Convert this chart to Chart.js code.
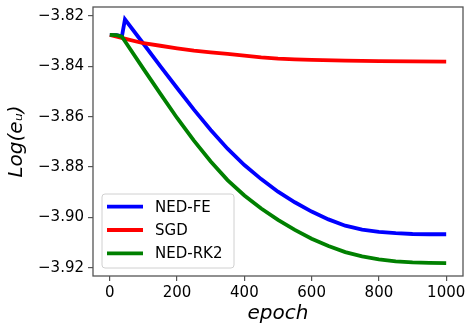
<!DOCTYPE html>
<html>
<head>
<meta charset="utf-8">
<script src="https://cdn.jsdelivr.net/npm/chart.js@4/dist/chart.umd.min.js"></script>
<style>
  html, body { margin: 0; padding: 0; background: #fff; }
  canvas { display: block; }
</style>
</head>
<body>
<canvas id="c" width="474" height="336"></canvas>
<script>
const seriesNames = ['NED-FE', 'SGD', 'NED-RK2'];
const seriesColors = ['#0000ff', '#ff0000', '#008000'];

const epochsFE = [0, 20, 36, 45, 100, 150, 200, 250, 300, 350, 400, 450, 500, 550, 600, 650, 700, 750, 800, 850, 900, 950, 1000];
const nedFE = [-3.8275, -3.8276, -3.8281, -3.8213, -3.8310, -3.8399, -3.8486, -3.8572, -3.8653, -3.8727, -3.8792, -3.8848,
               -3.8898, -3.8940, -3.8977, -3.9008, -3.9033, -3.9049, -3.9058, -3.9063, -3.9066, -3.9067, -3.9067];

const epochsSGD = [0, 50, 100, 150, 200, 250, 300, 350, 400, 450, 500, 550, 600, 700, 800, 900, 1000];
const sgd = [-3.8275, -3.8292, -3.8308, -3.8318, -3.8328, -3.8337, -3.8344, -3.8350, -3.8357, -3.8364, -3.8369,
             -3.8372, -3.8374, -3.8377, -3.8379, -3.8380, -3.8381];

const epochsRK2 = [0, 20, 36, 50, 100, 150, 200, 250, 300, 350, 400, 450, 500, 550, 600, 650, 700, 750, 800, 850, 900, 950, 1000];
const nedRK2 = [-3.8275, -3.8276, -3.8282, -3.8310, -3.8410, -3.8508, -3.8605, -3.8695, -3.8778, -3.8852, -3.8913, -3.8965,
                -3.9010, -3.9050, -3.9085, -3.9114, -3.9138, -3.9155, -3.9167, -3.9175, -3.9179, -3.9181, -3.9182];

const xTicks = [0, 200, 400, 600, 800, 1000];
const yTicks = [-3.92, -3.90, -3.88, -3.86, -3.84, -3.82];

const toPoints = (xs, ys) => xs.map((x, i) => ({ x: x, y: ys[i] }));
const seriesData = [toPoints(epochsFE, nedFE), toPoints(epochsSGD, sgd), toPoints(epochsRK2, nedRK2)];

// box around the plot, like matplotlib spines
const framePlugin = {
    id: 'frame',
    afterDatasetsDraw(chart) {
        const { ctx, chartArea: a } = chart;
        ctx.save();
        ctx.strokeStyle = '#555';
        ctx.lineWidth = 1.3;
        ctx.strokeRect(a.left, a.top, a.right - a.left, a.bottom - a.top);
        ctx.restore();
    }
};

// legend in the lower left corner of the plot
const legendPlugin = {
    id: 'boxLegend',
    afterDraw(chart) {
        const { ctx, chartArea: a } = chart;
        const x0 = a.left + 9, w = 132, rowH = 23.3, h = 74;
        const y0 = a.bottom - 8 - h;
        ctx.save();
        ctx.beginPath();
        ctx.roundRect(x0, y0, w, h, 3);
        ctx.fillStyle = 'rgba(255,255,255,0.8)';
        ctx.fill();
        ctx.strokeStyle = '#d0d0d0';
        ctx.lineWidth = 1;
        ctx.stroke();
        ctx.font = '15px "DejaVu Sans"';
        ctx.textBaseline = 'middle';
        chart.data.datasets.forEach((ds, i) => {
            const cy = y0 + 12.7 + i * rowH;
            ctx.beginPath();
            ctx.moveTo(x0 + 5, cy);
            ctx.lineTo(x0 + 41, cy);
            ctx.strokeStyle = ds.borderColor;
            ctx.lineWidth = 3.8;
            ctx.stroke();
            ctx.fillStyle = '#000';
            ctx.fillText(ds.label, x0 + 53, cy + 1);
        });
        ctx.restore();
    }
};

new Chart(document.getElementById('c'), {
    type: 'line',
    data: {
        datasets: seriesNames.map((name, i) => ({
            label: name,
            data: seriesData[i],
            borderColor: seriesColors[i],
            borderWidth: 3.8,
            pointRadius: 0,
            tension: 0,
            fill: false,
            order: 2 - i
        }))
    },
    options: {
        responsive: false,
        animation: false,
        layout: { padding: { top: 7, right: 11, left: 0, bottom: 0 } },
        plugins: { legend: { display: false }, tooltip: { enabled: false } },
        scales: {
            x: {
                type: 'linear',
                min: -50,
                max: 1050,
                afterBuildTicks: s => { s.ticks = xTicks.map(v => ({ value: v })); },
                afterFit: s => { s.height = 60; s.paddingLeft = 0; s.paddingRight = 0; },
                grid: { drawOnChartArea: false, drawTicks: true, tickLength: 5, color: '#555', lineWidth: 1.2 },
                border: { display: false },
                ticks: { color: '#000', font: { family: 'DejaVu Sans', size: 15 }, padding: 3, maxRotation: 0,
                         callback: v => String(v) },
                title: { display: true, text: 'epoch', color: '#000',
                         font: { family: 'DejaVu Sans', size: 20, style: 'italic' }, padding: { top: 0, bottom: 10 } }
            },
            y: {
                type: 'linear',
                min: -3.9233,
                max: -3.8164,
                afterBuildTicks: s => { s.ticks = yTicks.map(v => ({ value: v })); },
                afterFit: s => { s.width = 93; s.paddingTop = 0; s.paddingBottom = 0; },
                grid: { drawOnChartArea: false, drawTicks: true, tickLength: 5, color: '#555', lineWidth: 1.2 },
                border: { display: false },
                ticks: { color: '#000', font: { family: 'DejaVu Sans', size: 15 }, padding: 4,
                         callback: v => (v < 0 ? '\u2212' : '') + Math.abs(v).toFixed(2) },
                title: { display: true, text: 'Log(e\u1d64)', color: '#000',
                         font: { family: 'DejaVu Sans', size: 20, style: 'italic' }, padding: { top: 5, bottom: 0 } }
            }
        }
    },
    plugins: [framePlugin, legendPlugin]
});
</script>
</body>
</html>
